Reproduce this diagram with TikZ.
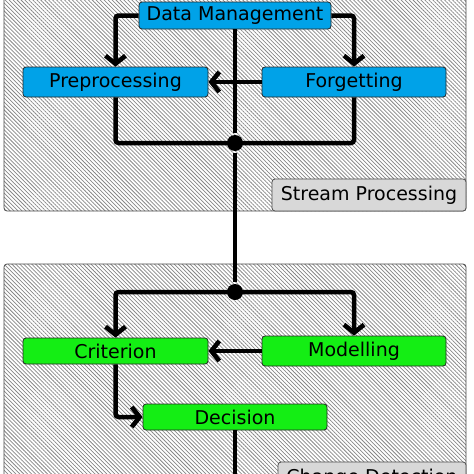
\documentclass[tikz,border=0pt]{standalone}
\usepackage{fontspec}
\setmainfont{DejaVu Sans}
\usepackage{xcolor}
\definecolor{Box-blue}{RGB}{0, 162, 232}
\definecolor{Box-green}{RGB}{20, 238, 20}
\definecolor{Tag-gray}{RGB}{216, 216, 216}
\definecolor{Hatch-gray}{RGB}{135, 135, 135}
\usetikzlibrary{arrows.meta,patterns.meta,positioning,calc}

\begin{document}
\begin{tikzpicture} [
    x=1pt, y=-1pt, line width=4.5pt, font=\fontsize{19}{22}\selectfont,
    >={Straight Barb[length=8pt,width=20pt]},
    bluebox/.style = {rectangle,rounded corners=3pt,draw=black!85,line width=0.8pt,fill=Box-blue,minimum height=30,minimum width=185,inner sep=0},
    greenbox/.style = {rectangle,rounded corners=3pt,draw=black!85,line width=0.8pt,fill=Box-green,minimum height=26,minimum width=185,inner sep=0},
    tagbox/.style = {rectangle,rounded corners=3pt,draw=black!70,line width=0.8pt,fill=Tag-gray,minimum height=32,inner sep=0},
    panel/.style = {rounded corners=3pt,draw=black!70,line width=0.8pt,pattern={Lines[angle=-45,distance=2.8pt,line width=0.75pt]},pattern color=Hatch-gray},
    dot/.style = {circle,fill=black,minimum size=16,inner sep=0},
    link/.style = {rounded corners=3pt}
    ]

    \clip (0,0) rectangle (474,474);
    \fill[white] (0,0) rectangle (474,474);

    \def \xarray{{115.5, 235, 354}}
    \def \yarray{{15.5, 82, 143, 292, 351, 417}}

    % the two hatched panels
    \draw[panel] (4,-30) rectangle (466,211);
    \draw[panel] (4,264) rectangle (466,494);

    \node (sp) [tagbox,minimum width=194] at (369,195) {Stream Processing};
    \node (cd) [tagbox,minimum width=188] at (372,478) {Change Detection};

    \node (dm) [bluebox,minimum width=192,minimum height=27] at (\xarray[1], \yarray[0]) {Data Management};
    \node (pre) [bluebox] at (\xarray[0], \yarray[1]) {Preprocessing};
    \node (forg) [bluebox,minimum width=184] at (\xarray[2], \yarray[1]) {Forgetting};

    \node (j1) [dot] at (\xarray[1], \yarray[2]) {};
    \node (j2) [dot] at (\xarray[1], \yarray[3]) {};

    \node (crit) [greenbox] at (\xarray[0], \yarray[4]) {Criterion};
    \node (mod) [greenbox,minimum width=184,minimum height=30] at (\xarray[2], \yarray[4]) {Modelling};
    \node (dec) [greenbox,minimum width=184] at (\xarray[1], \yarray[5]) {Decision};

    \coordinate (out) at (\xarray[1], 490);

    \draw (dm.south) -- (j1);
    \draw[->,link] (dm.west) -| (pre.north);
    \draw[->,link] (dm.east) -| (forg.north);
    \draw[->] (forg.west) -- (pre.east);
    \draw[link] (pre.south) |- (j1.center) -| (forg.south);

    \draw (j1) -- (j2);
    \draw[->,link] (j2.center) -| (crit.north);
    \draw[->,link] (j2.center) -| (mod.north);
    \draw[->] (mod.west) -- (crit.east -| mod.west) -- (crit.east);
    \draw[->,link] (crit.south) |- (dec.west);
    \draw (dec.south) -- (out);

\end{tikzpicture}
\end{document}
